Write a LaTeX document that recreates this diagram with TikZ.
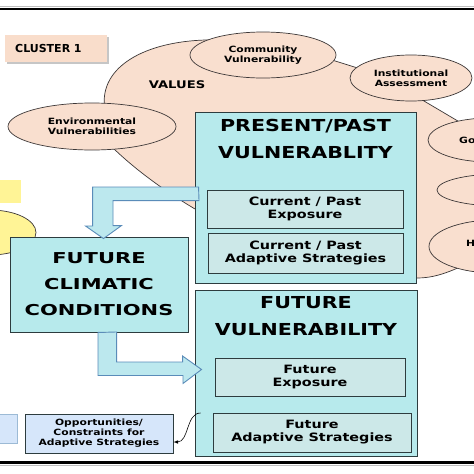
\documentclass[tikz,border=0pt]{standalone}
\usepackage{fontspec}
\usepackage{xcolor}
\usepackage{tikz}
\usetikzlibrary{arrows}
\usetikzlibrary{calc}
\usetikzlibrary{shapes.geometric}
\usetikzlibrary{shadows}
\newfontfamily\vfont{DejaVu Sans}[FakeStretch=1.25]
\newfontfamily\wfont{DejaVu Sans}[FakeStretch=1.4]
\newfontfamily\cfont{DejaVu Sans}
\definecolor{peach}{RGB}{249,223,207}
\definecolor{clusterfill}{RGB}{249,221,203}
\definecolor{ovalline}{RGB}{60,55,55}
\definecolor{boxline}{RGB}{45,60,62}
\definecolor{boxcyan}{RGB}{183,234,236}
\definecolor{subcyan}{RGB}{204,232,232}
\definecolor{arrowfill}{RGB}{188,232,238}
\definecolor{arrowline}{RGB}{90,140,185}
\definecolor{oppfill}{RGB}{214,230,250}
\definecolor{yellowfill}{RGB}{255,244,150}
\tikzstyle{oval} = [ellipse, draw=ovalline, fill=peach, line width=0.7pt, inner sep=0pt, align=center, font=\vfont\bfseries\fontsize{8.6}{10}\selectfont]
\tikzstyle{bigbox} = [draw=boxline, fill=boxcyan, line width=0.9pt, inner sep=0pt]
\tikzstyle{subbox} = [draw=boxline, fill=subcyan, line width=0.9pt, inner sep=0pt, align=center, font=\vfont\bfseries\fontsize{11.5}{13}\selectfont]
\tikzstyle{title} = [align=center, font=\vfont\bfseries\fontsize{16.5}{27}\selectfont]
\tikzstyle{blockarrow} = [draw=arrowline, fill=arrowfill, line width=0.9pt, line join=miter]

\begin{document}
\begin{tikzpicture}[x = 1pt, y = -1pt]
	\useasboundingbox (0, 0) rectangle (474, 474) ;
	\clip (0, 0) rectangle (474, 474) ;
	\fill[white] (0, 0) rectangle (474, 474) ;
	
	\draw[gray!50, line width=1pt] (0, 6.5) -- (474, 6.5) ;
	\draw[black, line width=2pt] (0, 8.5) -- (474, 8.5) ;
	\draw[black, line width=3pt] (0, 462.5) -- (474, 462.5) ;
	\draw[gray!50, line width=1pt] (0, 465.5) -- (474, 465.5) ;
	
	\draw[draw=ovalline, fill=peach, line width=0.7pt] (105, 110) .. controls (97, 65) and (150, 38) .. (220, 40) -- (300, 50) -- (380, 75) -- (490, 140) -- (520, 200) -- (500, 255) -- (470, 262) .. controls (445, 275) and (430, 278) .. (417, 278) .. controls (300, 278) and (170, 205) .. (110, 145) -- cycle ;
	
	\node[oval, minimum width=146pt, minimum height=46pt] (comm) at (263, 55) {Community\\Vulnerability} ;
	\node[oval, minimum width=122pt, minimum height=46pt] (inst) at (411, 78) {Institutional\\Assessment} ;
	\node[oval, minimum width=168pt, minimum height=47pt] (env) at (92, 126.5) {Environmental\\Vulnerabilities} ;
	\node[oval, minimum width=124pt, minimum height=44pt] (gov) at (490, 140) {} ;
	\node[oval, minimum width=126pt, minimum height=32pt] (mid) at (500, 190) {} ;
	\node[oval, minimum width=132pt, minimum height=53pt] (hum) at (495, 246.5) {} ;
	\node[anchor=west, inner sep=0pt, font=\vfont\bfseries\fontsize{8.6}{10}\selectfont] (govtext) at (459, 140) {Go} ;
	\node[anchor=west, inner sep=0pt, font=\vfont\bfseries\fontsize{8.6}{10}\selectfont] (humtext) at (466, 243) {H} ;
	
	\node[font=\vfont\bfseries\fontsize{10.5}{12}\selectfont] (values) at (177, 85) {VALUES} ;
	
	\node[fill=clusterfill, anchor=west, minimum height=27pt, text width=82pt, inner xsep=10pt, drop shadow={shadow xshift=2pt, shadow yshift=-2pt, fill=gray!45, opacity=1}, font=\cfont\bfseries\fontsize{11}{13}\selectfont] (cluster) at (5, 48.5) {CLUSTER 1} ;
	
	\node[fill=yellowfill, minimum width=40pt, minimum height=23pt] (ybox) at (1, 191.5) {} ;
	\node[ellipse, draw=ovalline, fill=yellowfill, line width=0.7pt, minimum width=92pt, minimum height=45pt] (yoval) at (-10, 232.5) {} ;
	\node[draw=arrowline!60, fill=oppfill, line width=0.8pt, minimum width=50pt, minimum height=29pt] (lbox) at (-8, 428.5) {} ;
	
	\node[bigbox, minimum width=221pt, minimum height=171pt] (present) at (305.5, 197.5) {} ;
	\node[title] (presenttitle) at (305.5, 138.5) {PRESENT/PAST\\VULNERABLITY} ;
	\node[subbox, minimum width=196pt, minimum height=38pt] (curexp) at (305, 209) {Current / Past\\Exposure} ;
	\node[subbox, minimum width=195pt, minimum height=40pt] (curadapt) at (305.5, 253) {Current / Past\\Adaptive Strategies} ;
	
	\node[bigbox, minimum width=222pt, minimum height=166pt] (future) at (306, 373) {} ;
	\node[title] (futuretitle) at (306, 316.5) {FUTURE\\VULNERABILITY} ;
	\node[subbox, minimum width=190pt, minimum height=38pt] (futexp) at (310, 377) {Future\\Exposure} ;
	\node[subbox, minimum width=198pt, minimum height=39pt] (futadapt) at (312, 432.5) {Future\\Adaptive Strategies} ;
	
	\node[bigbox, minimum width=178pt, minimum height=95pt, align=center, font=\wfont\bfseries\fontsize{15}{26}\selectfont] (climate) at (99, 284.5) {FUTURE\\CLIMATIC\\CONDITIONS} ;
	
	\node[draw=boxline, fill=oppfill, line width=0.8pt, minimum width=148pt, minimum height=39pt, inner sep=0pt, align=center, font=\vfont\bfseries\fontsize{8.6}{10}\selectfont] (opp) at (99, 433.5) {Opportunities/\\Constraints for\\Adaptive Strategies} ;
	
	\coordinate (a1s) at ($(present.west) + (4, -10.5)$) ;
	\coordinate (a1t) at ($(climate.north) + (4.5, 2)$) ;
	\draw[blockarrow] (a1s) -- ++(-106, 0) -- ++(0, 39) -- ++(-7, 0) -- (a1t) -- ++(18, -13) -- ++(-8.5, 0) -- ++(0, -25) -- ++(86, 0) -- cycle ;
	
	\coordinate (a2s) at ($(climate.south) + (-1, 0)$) ;
	\coordinate (a2t) at ($(future.west) + (7, -3.5)$) ;
	\draw[blockarrow] (a2s) -- ++(0, 43) -- ++(85, 0) -- ++(0, 8) -- (a2t) -- ++(-19, -13.5) -- ++(0, 6) -- ++(-66, 0) -- ++(0, -30) -- cycle ;
	
	\coordinate (futlink) at (200.5, 413) ;
	\draw[-latex, line width=0.6pt] (futlink) .. controls (186, 413) and (189, 442) .. ([yshift=-8.5pt]opp.east) ;
	
\end{tikzpicture}
\end{document}
